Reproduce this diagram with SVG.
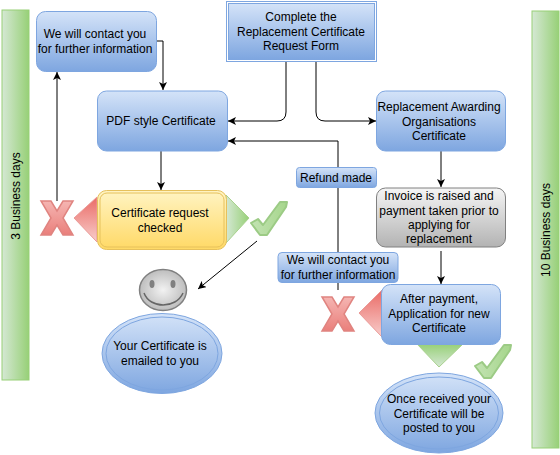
<svg xmlns="http://www.w3.org/2000/svg" width="560" height="455" viewBox="0 0 560 455">
<defs>
<linearGradient id="blue" x1="0" y1="0" x2="0" y2="1"><stop offset="0" stop-color="#d4e3f8"/><stop offset="1" stop-color="#7ea6e0"/></linearGradient>
<linearGradient id="yellow" x1="0" y1="0" x2="0" y2="1"><stop offset="0" stop-color="#fff4c3"/><stop offset="1" stop-color="#ffd966"/></linearGradient>
<linearGradient id="gray" x1="0" y1="0" x2="0" y2="1"><stop offset="0" stop-color="#f5f5f5"/><stop offset="1" stop-color="#b3b3b3"/></linearGradient>
<linearGradient id="barg" x1="0" y1="0" x2="1" y2="0"><stop offset="0" stop-color="#d5e8d4"/><stop offset="1" stop-color="#97d077"/></linearGradient>
<linearGradient id="tickg" x1="0" y1="0" x2="1" y2="0"><stop offset="0" stop-color="#c3e3b3"/><stop offset="1" stop-color="#a6d68c"/></linearGradient>
<linearGradient id="red" x1="0" y1="0" x2="0" y2="1"><stop offset="0" stop-color="#f5b5b2"/><stop offset="1" stop-color="#ea7f7b"/></linearGradient>
<linearGradient id="redv" x1="0" y1="0" x2="0" y2="1"><stop offset="0" stop-color="#ea6b66"/><stop offset="1" stop-color="#f8cecc"/></linearGradient>
<linearGradient id="greenv" x1="0" y1="0" x2="0" y2="1"><stop offset="0" stop-color="#97d077"/><stop offset="1" stop-color="#d5e8d4"/></linearGradient>
<radialGradient id="smile" cx="0.5" cy="0.5" r="0.6"><stop offset="0" stop-color="#f2f2f2"/><stop offset="1" stop-color="#b3b3b3"/></radialGradient>
<marker id="arr" markerWidth="10" markerHeight="8" refX="8" refY="4" orient="auto" markerUnits="userSpaceOnUse"><path d="M0 0L8 4L0 8L2 4Z" fill="#000"/></marker>
<path id="x" d="M-16 -17H-6L0 -7L6 -17H16L6 0L16 17H6L0 7L-6 17H-16L-6 0Z"/>
<path id="tick" d="M-18 5L-11 1L-6 7L11 -16L18 -16L17 -11L-2 17L-9 17Z"/>
</defs>
<style>
text{font-family:"Liberation Sans",Arial,sans-serif;font-size:12px;fill:#000;text-anchor:middle}
.b{fill:url(#blue);stroke:#7ea6e0;stroke-width:1}
.c{fill:none;stroke:#000;stroke-width:1}
.a{marker-end:url(#arr)}
.bar{fill:url(#barg);stroke:#97d077;stroke-width:1}
.xx{fill:url(#red);stroke:#e08480;stroke-width:1.5}
.tk{fill:url(#tickg);stroke:#9ccb85;stroke-width:2;stroke-linejoin:round}
</style>
<g id="connectors">
<path class="c a" d="M57 201V72"/>
<path class="c a" d="M157 41H163V90"/>
<path class="c a" d="M286 61V112Q286 121 277 121H228"/>
<path class="c a" d="M338 290V141H228"/>
<path class="c a" d="M316 61V112Q316 121 325 121H376"/>
<path class="c a" d="M161 151V190"/>
<path class="c a" d="M441 151V187"/>
<path class="c a" d="M441 251V284"/>
<path class="c a" d="M257 241L198 289"/>
</g>
<g id="bar-left"><rect class="bar" x="2" y="10" width="27" height="370"/><text transform="translate(20 196) rotate(-90)">3 Business days</text></g>
<g id="bar-right"><rect class="bar" x="532" y="11" width="27" height="437"/><text transform="translate(550 230) rotate(-90)">10 Business days</text></g>
<g id="contact-top"><rect class="b" x="36.500" y="11.500" width="120" height="60" rx="9"/><text x="95" y="38">We will contact you</text><text x="95" y="53">for further information</text></g>
<g id="form"><rect x="226.500" y="1.500" width="150" height="60" fill="none" stroke="#7ea6e0"/><rect class="b" x="228.500" y="3.500" width="146" height="56"/><text x="301" y="21">Complete the</text><text x="301" y="36">Replacement Certificate</text><text x="301" y="50">Request Form</text></g>
<g id="pdf"><rect class="b" x="97.500" y="91" width="130" height="60" rx="9"/><text x="161" y="125">PDF style Certificate</text></g>
<g id="replacement"><rect class="b" x="376.500" y="91" width="129" height="60" rx="9"/><text x="439" y="111">Replacement Awarding</text><text x="439" y="126">Organisations</text><text x="439" y="140">Certificate</text></g>
<g id="red-left"><path d="M97 197L74 218L97 242Z" fill="url(#redv)" stroke="#ea9a97"/></g>
<g id="green-right"><path d="M226 195L249 218L226 243Z" fill="url(#barg)" stroke="#a9d18e"/></g>
<g id="checked"><rect x="97.500" y="190.500" width="129" height="59" rx="9" fill="url(#yellow)" stroke="#e6c15c"/><rect x="100" y="193" width="124" height="54" rx="7" fill="none" stroke="#e6c15c"/><text x="160" y="217">Certificate request</text><text x="160" y="232">checked</text></g>
<g id="x-left"><use href="#x" x="57" y="218" class="xx"/></g>
<g id="tick-left"><use href="#tick" x="269" y="218" class="tk"/></g>
<g id="smiley"><ellipse cx="163" cy="290" rx="23.500" ry="20.500" fill="url(#smile)" stroke="#808080" stroke-width="1.500"/><ellipse cx="152" cy="284" rx="2.500" ry="4" fill="#808080"/><ellipse cx="173" cy="284" rx="2.500" ry="4" fill="#808080"/><path d="M144 293C150 309 176 309 183 293" fill="none" stroke="#666" stroke-width="1.500"/></g>
<g id="emailed"><ellipse class="b" cx="162" cy="353.500" rx="60" ry="40"/><ellipse cx="162" cy="353.500" rx="56" ry="36.500" fill="none" stroke="#7ea6e0"/><text x="160" y="350">Your Certificate is</text><text x="160" y="365">emailed to you</text></g>
<g id="invoice"><rect x="376.500" y="188" width="129" height="59" rx="9" fill="url(#gray)" stroke="#808080"/><text x="439" y="200">Invoice is raised and</text><text x="439" y="215">payment taken prior to</text><text x="439" y="229">applying for</text><text x="439" y="243">replacement</text></g>
<g id="refund"><rect class="b" x="296.500" y="167.500" width="80" height="20" rx="3"/><text x="336" y="182">Refund made</text></g>
<g id="contact-mid"><rect class="b" x="278" y="252.500" width="120" height="30" rx="4"/><text x="338" y="264">We will contact you</text><text x="338" y="279">for further information</text></g>
<g id="red-right"><path d="M382 290L359 313L382 337Z" fill="url(#redv)" stroke="#ea9a97"/></g>
<g id="green-down"><path d="M417 344L439 367L463 344Z" fill="url(#greenv)" stroke="#a9d18e"/></g>
<g id="application"><rect class="b" x="381.500" y="284.500" width="119" height="60" rx="9"/><text x="439" y="303">After payment,</text><text x="439" y="318">Application for new</text><text x="439" y="332">Certificate</text></g>
<g id="x-right"><use href="#x" x="338" y="314" class="xx"/></g>
<g id="posted"><ellipse class="b" cx="439" cy="413" rx="64" ry="40"/><ellipse cx="439" cy="413" rx="59.500" ry="36" fill="none" stroke="#7ea6e0"/><text x="439" y="403">Once received your</text><text x="439" y="418">Certificate will be</text><text x="439" y="432">posted to you</text></g>
<g id="tick-right"><use href="#tick" x="493" y="361" class="tk"/></g>
</svg>
